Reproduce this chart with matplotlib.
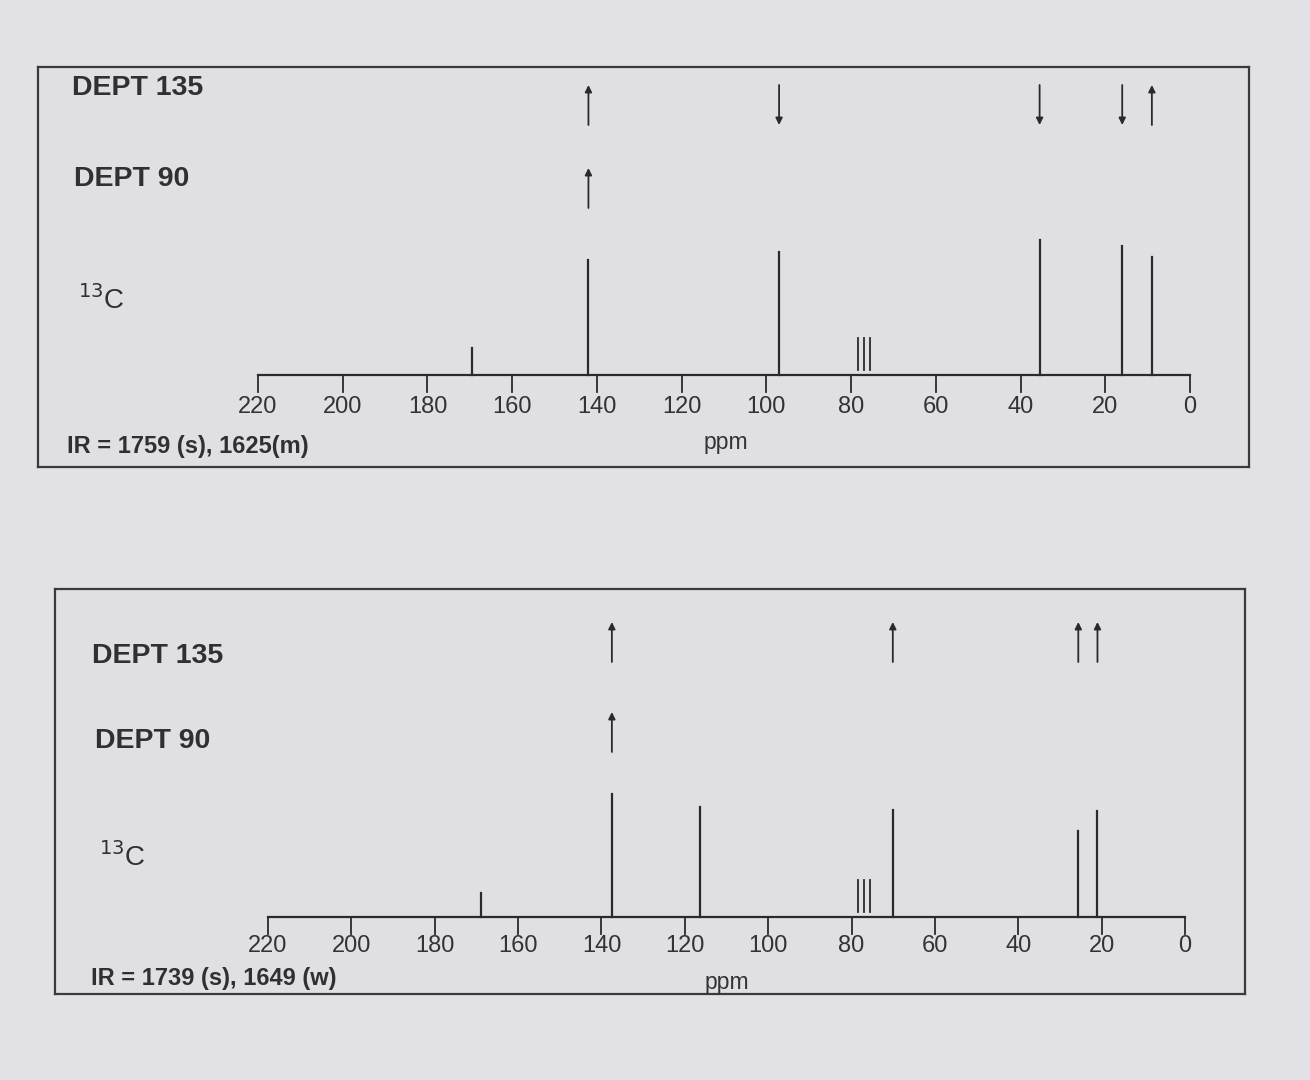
import matplotlib.pyplot as plt
from matplotlib import font_manager
from matplotlib.transforms import blended_transform_factory

# ---- data (ppm, relative peak height) ----
top_ppm = [169.5, 142.0, 97.0, 35.5, 16.0, 9.0]
top_height = [27, 115, 123, 135, 129, 118]
top_dept135 = [0, 1, -1, -1, -1, 1]   # 1 up, -1 down, 0 none
top_dept90 = [0, 1, 0, 0, 0, 0]
top_ir = "IR = 1759 (s), 1625(m)"

bot_ppm = [168.8, 137.5, 116.3, 70.1, 25.6, 21.0]
bot_height = [24, 123, 110, 107, 86, 106]
bot_dept135 = [0, 1, 0, 1, 1, 1]
bot_dept90 = [0, 1, 0, 0, 0, 0]
bot_ir = "IR = 1739 (s), 1649 (w)"

solvent_ppm = [78.4, 77.0, 75.5]      # CDCl3 triplet
solvent_height = [32, 32, 32]
tick_values = list(range(0, 221, 20))

INK = "#2a2a2a"
TXT = "#303030"
BG = "#e2e1e5"

names = {f.name for f in font_manager.fontManager.ttflist}
num_font = "Liberation Sans Narrow" if "Liberation Sans Narrow" in names else "Liberation Sans"
lab_font = "Liberation Sans"

W, H = 1310, 1080
fig = plt.figure(figsize=(W / 100, H / 100), dpi=100, facecolor=BG)


def make_panel(box, base_px, x220, x0):
    left, top, right, bottom = box
    ax = fig.add_axes([left / W, 1 - bottom / H, (right - left) / W, (bottom - top) / H])
    scale = (x0 - x220) / 220.0
    ax.set_xlim(220 + (x220 - left) / scale, -(right - x0) / scale)
    ax.set_ylim(-(bottom - base_px), base_px - top)
    ax.set_xticks([])
    ax.set_yticks([])
    ax.set_facecolor("#e0dfe3")
    for s in ax.spines.values():
        s.set_color("#3a3a3a")
        s.set_linewidth(1.6)
    return ax


def draw_panel(ax, ppm, height, d135, d90, rows, ppm_x):
    row135, row90, row_unit, row_tick = rows
    # baseline and ticks
    ax.plot([220, 0], [0, 0], color=INK, lw=1.6)
    for t in tick_values:
        ax.plot([t, t], [0, -17], color=INK, lw=1.3)
        ax.text(t, row_tick, str(t), ha="center", va="center", fontsize=17,
                family=num_font, color="#333333")
    ax.text(ppm_x, row_unit, "ppm", ha="center", va="center", fontsize=16.5,
            family=lab_font, color="#333333")
    # peaks
    for p, h in zip(ppm, height):
        ax.plot([p, p], [0, h], color=INK, lw=1.6)
    for p, h in zip(solvent_ppm, solvent_height):
        ax.plot([p, p], [5, 5 + h], color=INK, lw=1.3)
    # DEPT arrows
    for y_lo, dirs in ((row135, d135), (row90, d90)):
        for p, d in zip(ppm, dirs):
            if d == 0:
                continue
            lo, hi = y_lo, y_lo + 40
            start, end = (lo, hi) if d > 0 else (hi, lo)
            ax.annotate("", xy=(p, end), xytext=(p, start),
                        arrowprops=dict(arrowstyle="-|>", color=INK, lw=1.3,
                                        mutation_scale=10, shrinkA=0, shrinkB=0))


def labels(ax, xs, ys, ir):
    tr = blended_transform_factory(ax.transAxes, ax.transData)
    ax.text(xs[0], ys[0], "DEPT 135", transform=tr, ha="left", va="center",
            fontsize=20.5, weight="bold", family=lab_font, color=TXT)
    ax.text(xs[1], ys[1], "DEPT 90", transform=tr, ha="left", va="center",
            fontsize=20.5, weight="bold", family=lab_font, color=TXT)
    ax.text(xs[2], ys[2], r"$^{13}$C", transform=tr, ha="left", va="center",
            fontsize=20, family=lab_font, color=TXT)
    ax.text(xs[3], ys[3], ir, transform=tr, ha="left", va="center",
            fontsize=17, weight="bold", family=lab_font, color=TXT)


# top panel
ax1 = make_panel((38, 67, 1249, 467), 375, 258, 1190)
draw_panel(ax1, top_ppm, top_height, top_dept135, top_dept90,
           (250, 167, -68, -32), 109.5)
labels(ax1, (0.028, 0.030, 0.033, 0.024), (287, 196, 75, -72), top_ir)

# bottom panel
ax2 = make_panel((55, 589, 1245, 994), 917, 268, 1185)
draw_panel(ax2, bot_ppm, bot_height, bot_dept135, bot_dept90,
           (255, 165, -65, -29), 110)
labels(ax2, (0.031, 0.034, 0.037, 0.030), (261, 176, 60, -62), bot_ir)

fig.savefig("out.png", dpi=100, facecolor=BG)
